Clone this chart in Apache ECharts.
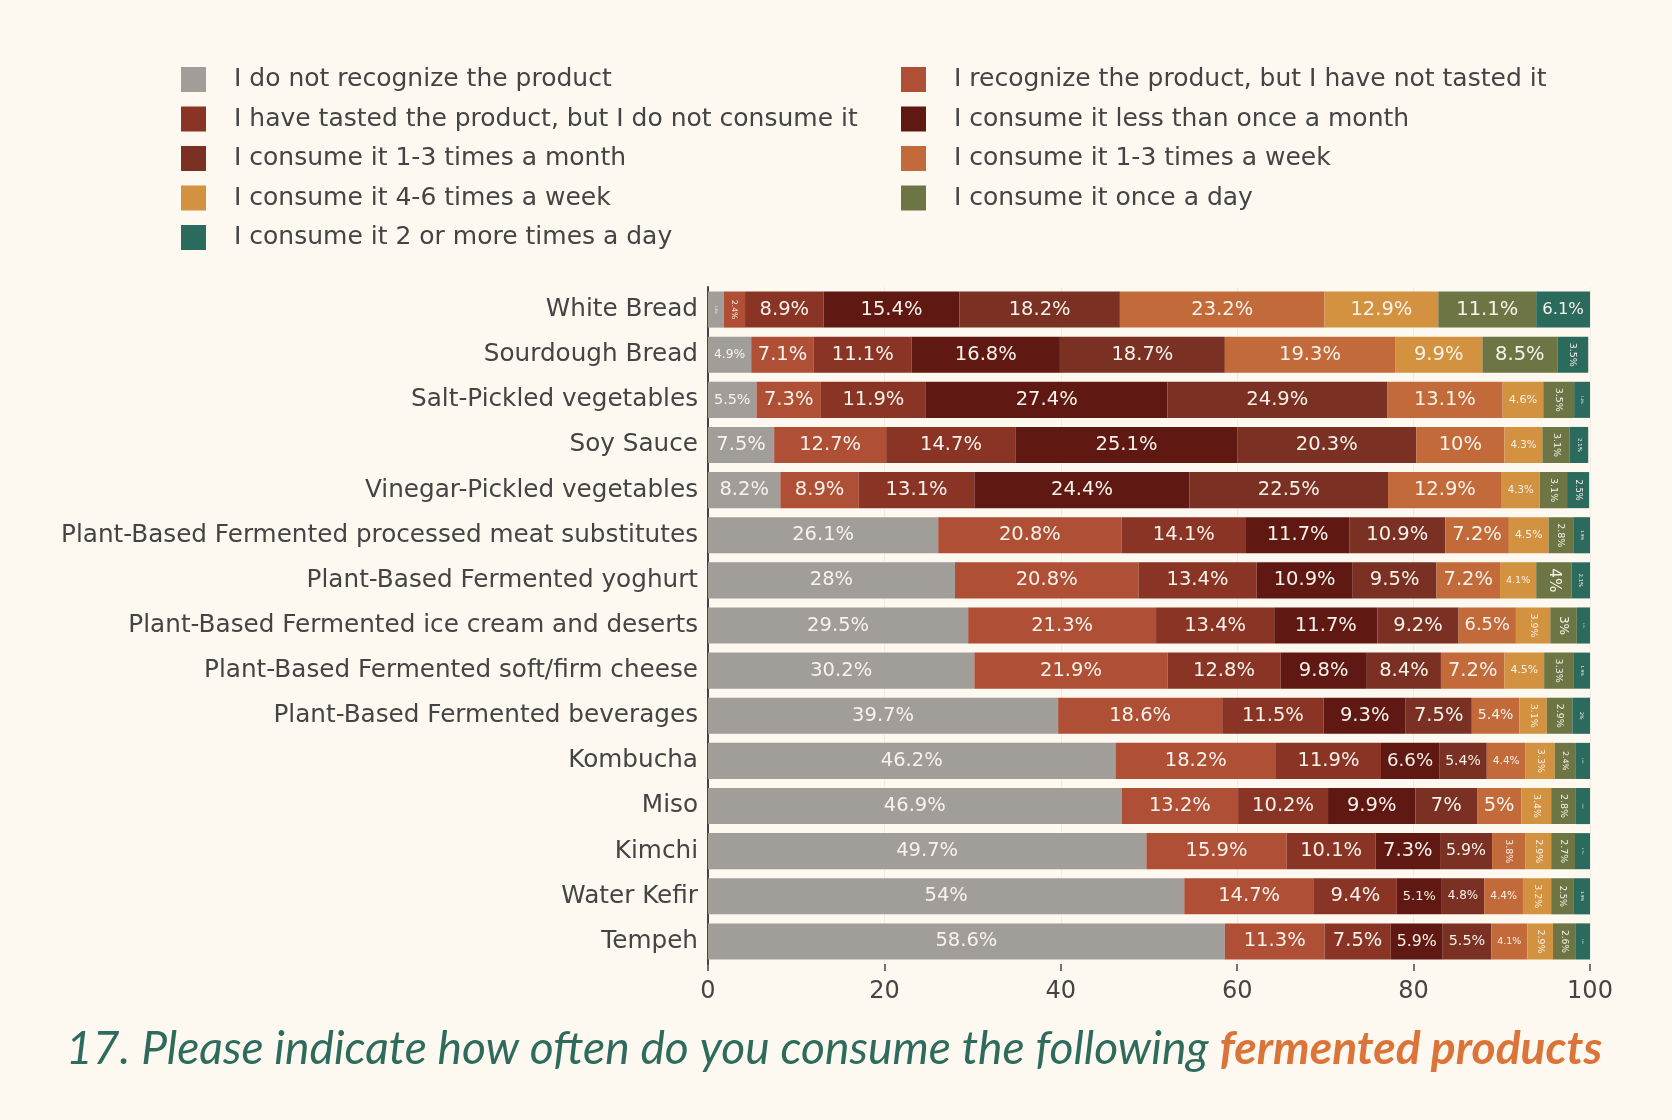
<!DOCTYPE html>
<html>
<head>
<meta charset="utf-8">
<script src="https://cdn.jsdelivr.net/npm/echarts@6/dist/echarts.min.js"></script>
<style>
html,body{margin:0;padding:0;background:#fdf8f0;}
#chart{width:1672px;height:1120px;}
</style>
</head>
<body>
<div id="chart"></div>
<script>
const categories = ['White Bread','Sourdough Bread','Salt-Pickled vegetables','Soy Sauce','Vinegar-Pickled vegetables','Plant-Based Fermented processed meat substitutes','Plant-Based Fermented yoghurt','Plant-Based Fermented ice cream and deserts','Plant-Based Fermented soft/firm cheese','Plant-Based Fermented beverages','Kombucha','Miso','Kimchi','Water Kefir','Tempeh'];

const seriesNames = ['I do not recognize the product','I recognize the product, but I have not tasted it','I have tasted the product, but I do not consume it','I consume it less than once a month','I consume it 1-3 times a month','I consume it 1-3 times a week','I consume it 4-6 times a week','I consume it once a day','I consume it 2 or more times a day'];

const notRecognize       = [1.8, 4.9, 5.5, 7.5, 8.2, 26.1, 28, 29.5, 30.2, 39.7, 46.2, 46.9, 49.7, 54, 58.6];
const recognizeNotTasted = [2.4, 7.1, 7.3, 12.7, 8.9, 20.8, 20.8, 21.3, 21.9, 18.6, 18.2, 13.2, 15.9, 14.7, 11.3];
const tastedNotConsume   = [8.9, 11.1, 11.9, 14.7, 13.1, 14.1, 13.4, 13.4, 12.8, 11.5, 11.9, 10.2, 10.1, 9.4, 7.5];
const lessThanMonth      = [15.4, 16.8, 27.4, 25.1, 24.4, 11.7, 10.9, 11.7, 9.8, 9.3, 6.6, 9.9, 7.3, 5.1, 5.9];
const month1to3          = [18.2, 18.7, 24.9, 20.3, 22.5, 10.9, 9.5, 9.2, 8.4, 7.5, 5.4, 7, 5.9, 4.8, 5.5];
const week1to3           = [23.2, 19.3, 13.1, 10, 12.9, 7.2, 7.2, 6.5, 7.2, 5.4, 4.4, 5, 3.8, 4.4, 4.1];
const week4to6           = [12.9, 9.9, 4.6, 4.3, 4.3, 4.5, 4.1, 3.9, 4.5, 3.1, 3.3, 3.4, 2.9, 3.2, 2.9];
const onceDay            = [11.1, 8.5, 3.5, 3.1, 3.1, 2.8, 4, 3, 3.3, 2.9, 2.4, 2.8, 2.7, 2.5, 2.6];
const twoPlusDay         = [6.1, 3.5, 1.8, 2.1, 2.5, 1.9, 2.1, 1.5, 1.9, 2.0, 1.6, 1.6, 1.7, 1.9, 1.6];

const xTicks = [0, 20, 40, 60, 80, 100];

const seriesValues = [notRecognize, recognizeNotTasted, tastedNotConsume, lessThanMonth, month1to3, week1to3, week4to6, onceDay, twoPlusDay];
const colors = ['#a19d99','#ae4f36','#8a3426','#5f1812','#7a3022','#c26a3a','#d3923f','#6d7545','#2b6b5d'];

// layout
const GRID_LEFT = 708, GRID_RIGHT = 82, GRID_TOP = 287, GRID_BOTTOM = 156;
const PLOT_W = 1672 - GRID_LEFT - GRID_RIGHT;
const PX = PLOT_W / (xTicks[xTicks.length-1] - xTicks[0]);
const BAND = (1120 - GRID_TOP - GRID_BOTTOM) / categories.length;
const BAR_H = BAND * 0.8;
const BASE = 19.5, PAD = 6;
const FONT = '"DejaVu Sans", Verdana, sans-serif';

const cv = document.createElement('canvas').getContext('2d');
function measure(t, f){ cv.font = f + 'px "DejaVu Sans"'; return cv.measureText(t).width; }

function labelFor(v){
  const txt = v + '%';
  const tw = measure(txt, BASE), th = BASE * 1.2;
  const aw = v * PX - 2 * PAD, ah = BAR_H - 2 * PAD;
  const s0 = Math.max(0, Math.min(1, aw / tw, ah / th));
  const s1 = Math.max(0, Math.min(1, aw / th, ah / tw));
  if (s0 >= s1) return { fontSize: Math.max(2, BASE * s0), rotate: 0 };
  return { fontSize: Math.max(2, BASE * s1), rotate: -90 };
}

const series = seriesNames.map((name, i) => ({
  name: name,
  type: 'bar',
  stack: 'total',
  barCategoryGap: '20%',
  itemStyle: { color: colors[i] },
  label: {
    show: true, position: 'inside', color: '#f8f2ea', fontFamily: FONT,
    formatter: p => p.value + '%'
  },
  emphasis: { disabled: true },
  data: seriesValues[i].map(v => {
    const l = labelFor(v);
    return { value: v, label: { fontSize: l.fontSize, rotate: l.rotate } };
  })
}));

const legendText = { color: '#444', fontSize: 25, fontFamily: FONT, padding: [0, 0, 0, 23] };

const chart = echarts.init(document.getElementById('chart'), null, { renderer: 'canvas' });
chart.setOption({
  backgroundColor: '#fdf8f0',
  animation: false,
  color: colors,
  title: {
    left: 61, top: 1021,
    text: '{a|17. Please indicate how often do you consume the following }{b|fermented products}',
    textStyle: {
      rich: {
        a: { fontFamily: 'Lato', fontStyle: 'italic', fontWeight: 'normal', fontSize: 46.2, color: '#2e6b5d' },
        b: { fontFamily: 'Lato', fontStyle: 'italic', fontWeight: 'bold', fontSize: 46.2, color: '#db7438' }
      }
    }
  },
  legend: [
    { data: [seriesNames[0], seriesNames[2], seriesNames[4], seriesNames[6], seriesNames[8]],
      orient: 'vertical', left: 176, top: 62, itemWidth: 25, itemHeight: 25, itemGap: 14.5,
      icon: 'rect', selectedMode: false, textStyle: legendText },
    { data: [seriesNames[1], seriesNames[3], seriesNames[5], seriesNames[7]],
      orient: 'vertical', left: 896, top: 62, itemWidth: 25, itemHeight: 25, itemGap: 14.5,
      icon: 'rect', selectedMode: false, textStyle: legendText }
  ],
  grid: { left: GRID_LEFT, right: GRID_RIGHT, top: GRID_TOP, bottom: GRID_BOTTOM, containLabel: false },
  xAxis: {
    type: 'value', min: xTicks[0], max: xTicks[xTicks.length-1], interval: 20,
    axisLine: { show: false },
    axisTick: { show: true, length: 7, lineStyle: { color: '#444', width: 1.5 } },
    axisLabel: { color: '#444', fontSize: 24, fontFamily: FONT, margin: 16 },
    splitLine: { show: true, lineStyle: { color: '#f1ece3', width: 1 } }
  },
  yAxis: {
    type: 'category', data: categories, inverse: true,
    axisLine: { show: true, lineStyle: { color: '#444', width: 2 } },
    axisTick: { show: false },
    axisLabel: { color: '#444', fontSize: 24.7, fontFamily: FONT, margin: 10 }
  },
  series: series
});
</script>
</body>
</html>
